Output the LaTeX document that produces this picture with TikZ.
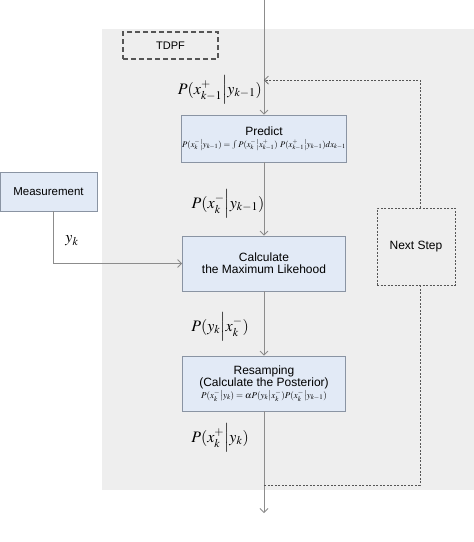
\documentclass[tikz,border=0pt]{standalone}
\usepackage{mathptmx}
\usepackage{fontspec}
\setmainfont{Liberation Sans}
\usetikzlibrary{arrows.meta}
\definecolor{bgray}{HTML}{EEEEEE}
\definecolor{boxfill}{HTML}{E2EAF6}
\definecolor{boxline}{HTML}{8A94A3}
\definecolor{conn}{HTML}{8C8C8C}
\definecolor{dash}{HTML}{555555}
\tikzset{
  flowbox/.style={draw=boxline, fill=boxfill, line width=0.8pt, minimum width=163pt, align=center, inner sep=1pt},
  conline/.style={draw=conn, line width=0.8pt},
  arr/.style={-{Straight Barb[length=4pt,width=8pt]}},
  fb/.style={draw=dash, line width=0.7pt, dash pattern=on 2pt off 1.5pt},
  mlabel/.style={font=\fontsize{16}{18}\selectfont, inner sep=0pt},
}
\begin{document}
\begin{tikzpicture}[x=1pt,y=-1pt]
\useasboundingbox (0,0) rectangle (474,542);
\fill[bgray] (102,29) rectangle (474,490);
\node[draw=dash, line width=1.6pt, dash pattern=on 5pt off 3pt, minimum width=95pt, minimum height=27pt, font=\fontsize{11}{13}\selectfont] (tdpf) at (170.5,45.5) {TDPF};

\node[flowbox, minimum height=47pt] (pred) at (264,138.5) {\fontsize{12}{14}\selectfont Predict\\[0pt]
\fontsize{8.6}{10}\selectfont $P(x_k^-\big|y_{k-1}) = \int P(x_k^-\big|x_{k-1}^+)\ P(x_{k-1}^+\big|y_{k-1})dx_{k-1}$};
\node[flowbox, minimum height=55pt] (calc) at (264,263.5) {\fontsize{12}{15}\selectfont Calculate\\ \fontsize{12}{15}\selectfont the Maximum Likehood};
\node[flowbox, minimum height=55pt] (res) at (264,383.5) {\fontsize{12}{15}\selectfont Resamping\\ \fontsize{12}{15}\selectfont (Calculate the Posterior)\\[0pt]
\fontsize{9}{10}\selectfont $P(x_k^-\big|y_k) = \alpha P(y_k\big|x_k^-)P(x_k^-\big|y_{k-1})$};
\node[flowbox, minimum width=97pt, minimum height=39pt, font=\fontsize{11.5}{13}\selectfont] (meas) at (48.5,191.5) {Measurement};
\node[fb, minimum width=78pt, minimum height=77pt, font=\fontsize{12}{14}\selectfont] (next) at (416,246.5) {Next Step};

\coordinate (top) at (264,0);
\coordinate (bot) at (264,513);
\coordinate (fbin) at (264,80);
\coordinate (fbtop) at (420,80);
\coordinate (fbbot) at (420,485);
\coordinate (fbout) at (264,485);
\coordinate (mturn) at (53,263.5);
\coordinate (mstart) at (53,211);

\draw[conline, arr] (top) -- (pred.north);
\draw[conline, arr] (pred.south) -- (calc.north);
\draw[conline, arr] (calc.south) -- (res.north);
\draw[conline, arr] (res.south) -- (bot);
\draw[conline, arr] (mstart) -- (mturn) -- (calc.west);
\draw[fb] (fbbot |- next.south) -- (fbbot) -- (fbout);
\draw[fb, arr] (fbtop |- next.north) -- (fbtop) -- (fbin);

\node[mlabel, anchor=east] (l1) at (262,90) {$P(x_{k-1}^+\Big|y_{k-1})$};
\node[mlabel] (l2) at (228,204) {$P(x_k^-\Big|y_{k-1})$};
\node[mlabel] (l3) at (72,241) {$y_k$};
\node[mlabel] (l4) at (220,327) {$P(y_k\Big|x_k^-)$};
\node[mlabel] (l5) at (220,438) {$P(x_k^+\Big|y_k)$};
\end{tikzpicture}
\end{document}
